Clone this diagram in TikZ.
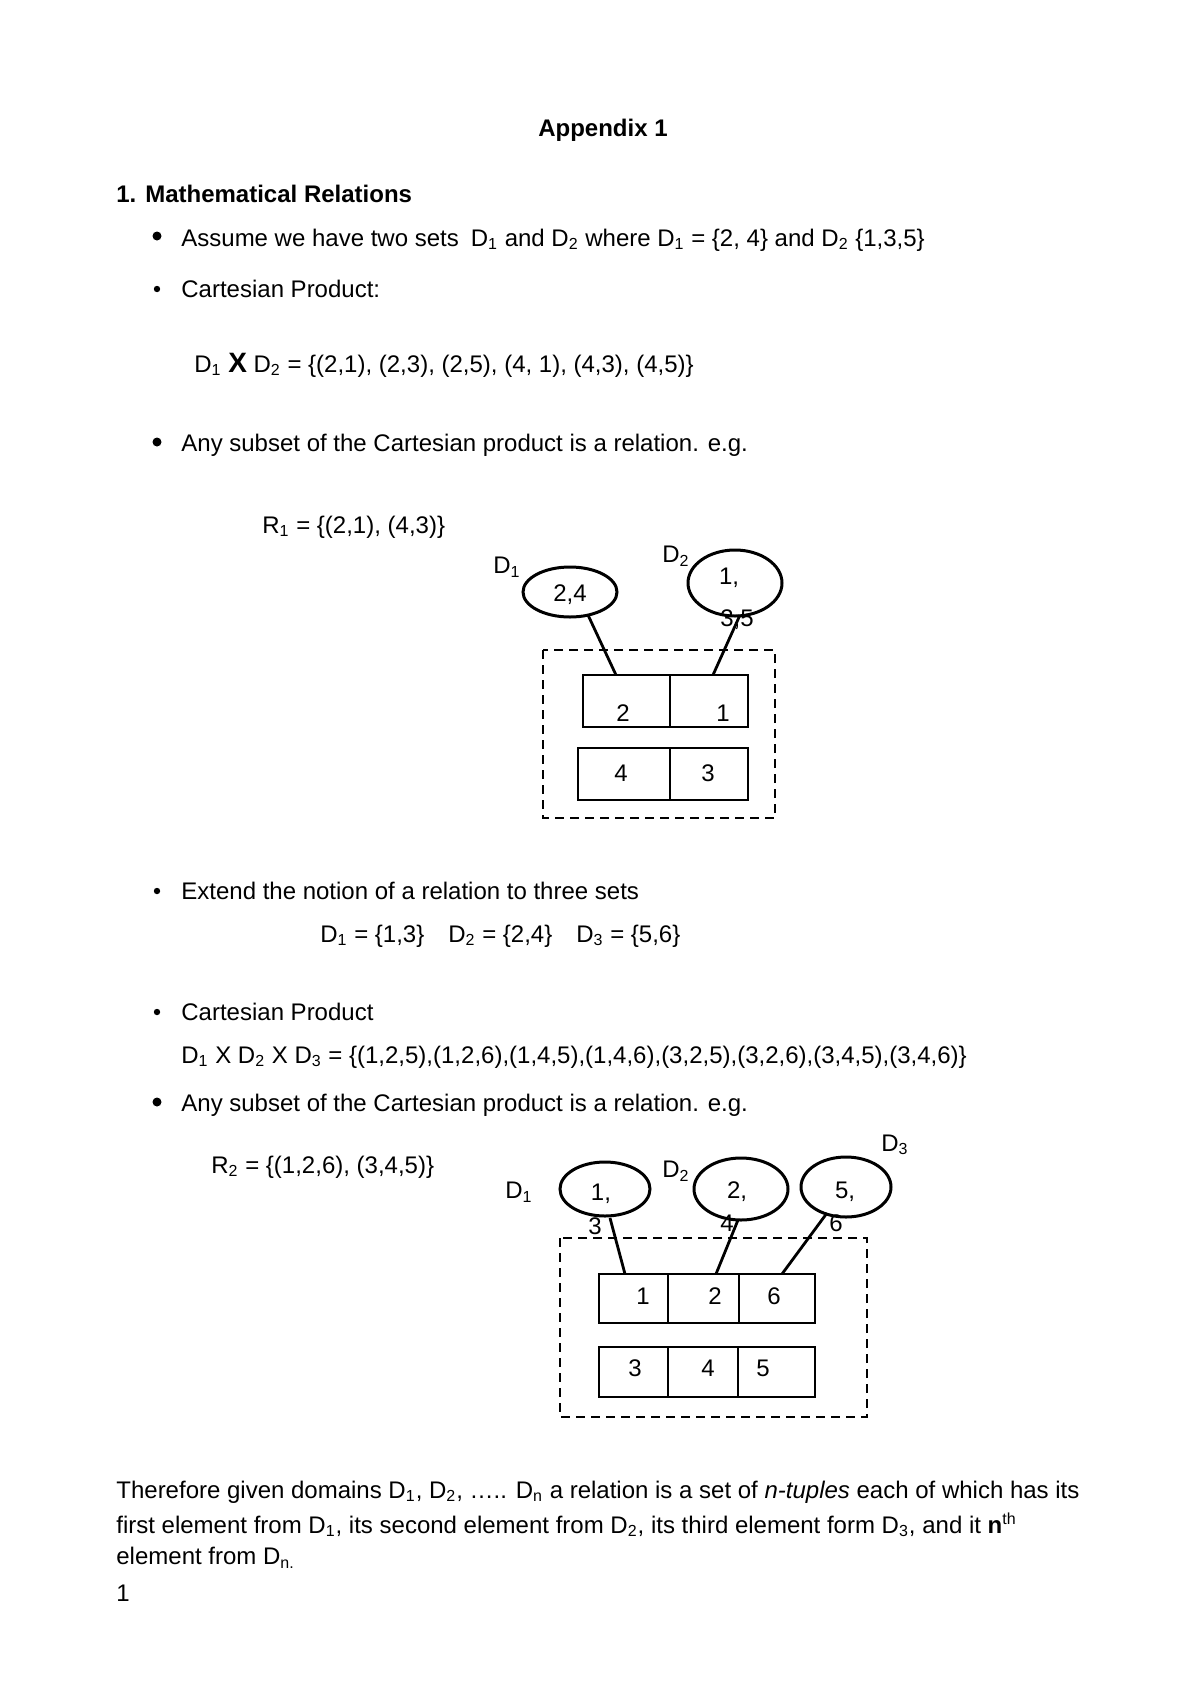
\documentclass[tikz,border=0pt]{standalone}
\usepackage{fontspec}
\setmainfont{Liberation Sans}
\usetikzlibrary{shapes.geometric}
\newcommand{\sbs}[1]{\textsubscript{#1}}
\begin{document}
\begin{tikzpicture}[x=0.5pt,y=-0.5pt,
  txt/.style={anchor=west,inner sep=0pt,font=\fontsize{12}{14}\selectfont},
  ctxt/.style={inner sep=0pt,font=\fontsize{12}{14}\selectfont},
  setov/.style={draw,ellipse,line width=1.5pt,inner sep=0pt},
  cell/.style={draw,line width=1.3pt},
  frame/.style={draw,line width=1.4pt,dash pattern=on 4.5pt off 3pt},
  link/.style={line width=1.4pt},
  bigb/.style={fill,circle,inner sep=0pt,minimum size=4.5pt},
  smb/.style={fill,circle,inner sep=0pt,minimum size=3.2pt}]
\useasboundingbox (0,0) rectangle (1200,1698);
\fill[white] (0,0) rectangle (1200,1698);
\node[ctxt,font=\bfseries\fontsize{12}{14}\selectfont] (title) at (603,130) {Appendix 1};
\node[txt,font=\bfseries\fontsize{12}{14}\selectfont] (h1) at (116,194) {1. Mathematical Relations};
\node[bigb] (b1) at (157,236) {};
\node[txt] (t1) at (181,240) {Assume we have two sets\enspace D\sbs{1} and D\sbs{2} where D\sbs{1} = \{2, 4\} and D\sbs{2} \{1,3,5\}};
\node[smb] (b2) at (157,289) {};
\node[txt] (t2) at (181,289) {Cartesian Product:};
\node[txt] (t3) at (194,365) {D\sbs{1} {\fontsize{14}{14}\selectfont\bfseries X} D\sbs{2} = \{(2,1), (2,3), (2,5), (4, 1), (4,3), (4,5)\}};
\node[bigb] (b3) at (157,442) {};
\node[txt] (t4) at (181,445) {Any subset of the Cartesian product is a relation. e.g.};
\node[txt] (t5) at (262,527) {R\sbs{1} = \{(2,1), (4,3)\}};
% diagram 1
\node[ctxt] (l1) at (507,567) {D\sbs{1}};
\node[ctxt] (l2) at (676,556) {D\sbs{2}};
\node[setov,minimum width=94pt*0.5,minimum height=50pt*0.5] (e1) at (570,592) {};
\node[ctxt] at (570,595) {2,4};
\node[setov,minimum width=94pt*0.5,minimum height=66pt*0.5] (e2) at (735,583) {};
\node[ctxt] at (729,578) {1,};
\node[ctxt] at (737,620) {3,5};
\draw[frame] (543,650) rectangle (775,818);
\draw[cell] (583,675) rectangle (748,727);
\draw[cell] (670,675) -- (670,727);
\draw[cell] (578,748) rectangle (748,800);
\draw[cell] (670,748) -- (670,800);
\node[ctxt] (c21) at (623,713) {2};
\node[ctxt] (c11) at (723,713) {1};
\node[ctxt] (c41) at (621,773) {4};
\node[ctxt] (c31) at (708,773) {3};
\coordinate (p1) at (588,615); \coordinate (q1) at (616,675);
\coordinate (p2) at (740,615); \coordinate (q2) at (713,675);
\draw[link] (p1) -- (q1);
\draw[link] (p2) -- (q2);
% text 2
\node[smb] (b4) at (157,891) {};
\node[txt] (t6) at (181,891) {Extend the notion of a relation to three sets};
\node[txt] (t7) at (320,936) {D\sbs{1} = \{1,3\}\quad D\sbs{2} = \{2,4\}\quad D\sbs{3} = \{5,6\}};
\node[smb] (b5) at (157,1012) {};
\node[txt] (t8) at (181,1012) {Cartesian Product};
\node[txt] (t9) at (181,1057) {D\sbs{1} X D\sbs{2} X D\sbs{3} = \{(1,2,5),(1,2,6),(1,4,5),(1,4,6),(3,2,5),(3,2,6),(3,4,5),(3,4,6)\}};
\node[bigb] (b6) at (157,1102) {};
\node[txt] (t10) at (181,1105) {Any subset of the Cartesian product is a relation. e.g.};
\node[txt] (t11) at (211,1167) {R\sbs{2} = \{(1,2,6), (3,4,5)\}};
% diagram 2
\node[ctxt] (m1) at (519,1192) {D\sbs{1}};
\node[ctxt] (m2) at (676,1171) {D\sbs{2}};
\node[ctxt] (m3) at (895,1145) {D\sbs{3}};
\node[setov,minimum width=90pt*0.5,minimum height=54pt*0.5] (f1) at (605,1189) {};
\node[setov,minimum width=94pt*0.5,minimum height=62pt*0.5] (f2) at (741,1189) {};
\node[setov,minimum width=90pt*0.5,minimum height=60pt*0.5] (f3) at (846,1187) {};
\node[ctxt] at (601,1194) {1,};
\node[ctxt] at (595,1226) {3};
\node[ctxt] at (737,1192) {2,};
\node[ctxt] at (727,1223) {4};
\node[ctxt] at (845,1192) {5,};
\node[ctxt] at (836,1223) {6};
\draw[frame] (560,1238) rectangle (867,1417);
\draw[cell] (599,1274) rectangle (815,1323);
\draw[cell] (668,1274) -- (668,1323);
\draw[cell] (739,1274) -- (739,1323);
\draw[cell] (599,1347) rectangle (815,1397);
\draw[cell] (668,1347) -- (668,1397);
\draw[cell] (738,1347) -- (738,1397);
\node[ctxt] at (643,1296) {1};
\node[ctxt] at (715,1296) {2};
\node[ctxt] at (774,1296) {6};
\node[ctxt] at (635,1368) {3};
\node[ctxt] at (708,1368) {4};
\node[ctxt] at (763,1368) {5};
\coordinate (r1) at (610,1218); \coordinate (s1) at (625,1274);
\coordinate (r2) at (738,1220); \coordinate (s2) at (716,1274);
\coordinate (r3) at (827,1213); \coordinate (s3) at (782,1274);
\draw[link] (r1) -- (s1);
\draw[link] (r2) -- (s2);
\draw[link] (r3) -- (s3);
% closing
\node[txt] (z1) at (116,1492) {Therefore given domains D\sbs{1}, D\sbs{2}, ….. D\sbs{n} a relation is a set of \textit{n-tuples} each of which has its};
\node[txt] (z2) at (116,1525) {first element from D\sbs{1}, its second element from D\sbs{2}, its third element form D\sbs{3}, and it \textbf{n}\textsuperscript{th}};
\node[txt] (z3) at (116,1558) {element from D\sbs{n.}};
\node[txt] (pg) at (116,1593) {1};
\end{tikzpicture}
\end{document}
